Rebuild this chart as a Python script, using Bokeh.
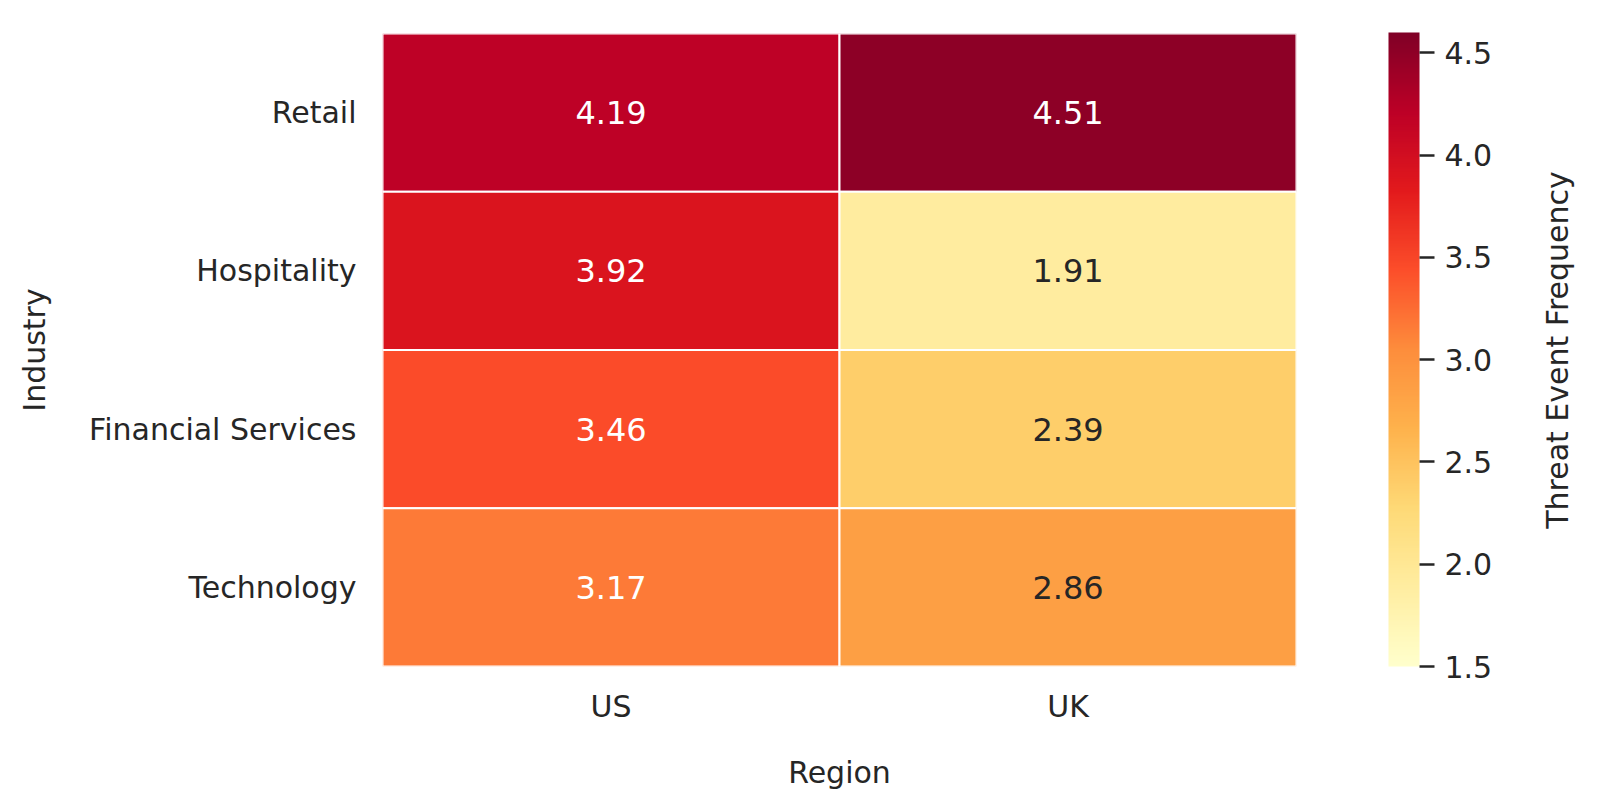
import numpy as np
from bokeh.plotting import figure
from bokeh.layouts import row
from bokeh.models import (ColumnDataSource, LinearColorMapper, ColorBar, FixedTicker,
                          PrintfTickFormatter, FactorRange, Title)
from bokeh.core.properties import value
from bokeh.embed import file_html
from bokeh.resources import INLINE

# ---- data ----
industries = ["Retail", "Hospitality", "Financial Services", "Technology"]  # top to bottom
regions = ["US", "UK"]
us_values = [4.19, 3.92, 3.46, 3.17]
uk_values = [4.51, 1.91, 2.39, 2.86]
cbar_low = 1.5
cbar_high = 4.6
cbar_ticks = [1.5, 2.0, 2.5, 3.0, 3.5, 4.0, 4.5]
x_title = "Region"
y_title = "Industry"
cbar_title = "Threat Event Frequency"

# ---- palette (YlOrRd, interpolated like matplotlib) ----
brewer = ['#ffffcc', '#ffeda0', '#fed976', '#feb24c', '#fd8d3c',
          '#fc4e2a', '#e31a1c', '#bd0026', '#800026']
anchors = np.array([[int(c[i:i + 2], 16) for i in (1, 3, 5)] for c in brewer], dtype=float)
pos = np.linspace(0, 1, len(brewer))
tt = np.linspace(0, 1, 256)
rgb = np.stack([np.interp(tt, pos, anchors[:, k]) for k in range(3)], axis=1)
palette = ["#%02x%02x%02x" % tuple(int(round(v)) for v in row_) for row_ in rgb]


def cell_rgb(v):
    t = (v - cbar_low) / (cbar_high - cbar_low)
    idx = int(np.clip(np.floor(t * 256), 0, 255))
    return rgb[idx] / 255.0


def text_color(v):
    c = cell_rgb(v)
    lin = np.where(c <= 0.03928, c / 12.92, ((c + 0.055) / 1.055) ** 2.4)
    lum = 0.2126 * lin[0] + 0.7152 * lin[1] + 0.0722 * lin[2]
    return "#262626" if lum > 0.408 else "#ffffff"


xs, ys, vals, labels, tcols = [], [], [], [], []
for ind, u, k in zip(industries, us_values, uk_values):
    for reg, v in zip(regions, (u, k)):
        xs.append(reg)
        ys.append(ind)
        vals.append(v)
        labels.append("%.2f" % v)
        tcols.append(text_color(v))

src = ColumnDataSource(dict(x=xs, y=ys, v=vals, label=labels, tcol=tcols))

mapper = LinearColorMapper(palette=palette, low=cbar_low, high=cbar_high)

FONT = "DejaVu Sans"
TXT = "#262626"

p = figure(width=1500, height=799, output_backend="svg", toolbar_location=None,
           x_range=FactorRange(*regions), y_range=FactorRange(*industries[::-1]),
           min_border_left=382, min_border_right=204, min_border_top=33,
           min_border_bottom=133)
p.outline_line_color = None
p.grid.visible = False
p.background_fill_color = "white"
p.border_fill_color = "white"

p.rect(x="x", y="y", width=1, height=1, source=src,
       fill_color={"field": "v", "transform": mapper},
       line_color="white", line_width=2)

p.text(x="x", y="y", text="label", source=src, text_color="tcol",
       text_font=value(FONT), text_font_size="32px",
       text_align="center", text_baseline="middle")

for ax in (p.xaxis[0], p.yaxis[0]):
    ax.axis_line_color = None
    ax.major_tick_line_color = None
    ax.minor_tick_line_color = None
    ax.major_tick_out = 0
    ax.major_tick_in = 0
    ax.major_label_text_font = FONT
    ax.major_label_text_font_size = "30px"
    ax.major_label_text_color = TXT
    ax.axis_label_text_font = FONT
    ax.axis_label_text_font_size = "30px"
    ax.axis_label_text_font_style = "normal"
    ax.axis_label_text_color = TXT

p.xaxis.axis_label = x_title
p.yaxis.axis_label = y_title
p.xaxis.major_label_standoff = 22
p.xaxis.axis_label_standoff = 28
p.yaxis.major_label_standoff = 26
p.yaxis.axis_label_standoff = 34

cb = ColorBar(color_mapper=mapper, width=31, height=634,
              ticker=FixedTicker(ticks=cbar_ticks),
              formatter=PrintfTickFormatter(format="%.1f"),
              major_label_text_font=FONT, major_label_text_font_size="30px",
              major_label_text_color=TXT,
              major_tick_in=0, major_tick_out=15,
              major_tick_line_color=TXT, major_tick_line_width=2.5,
              minor_tick_line_color=None,
              bar_line_color=None, border_line_color=None,
              background_fill_color=None,
              label_standoff=10, margin=0, padding=0,
              location=(92, 0))
p.add_layout(cb, "right")

# narrow companion panel that carries the colour-bar title (reads bottom-to-top)
p2 = figure(width=100, height=799, output_backend="svg", toolbar_location=None,
            x_axis_type=None, y_axis_type=None,
            min_border_left=74, min_border_right=0, min_border_top=33,
            min_border_bottom=133)
p2.outline_line_color = None
p2.grid.visible = False
p2.background_fill_color = "white"
p2.border_fill_color = "white"
p2.add_layout(Title(text=cbar_title, text_font=FONT, text_font_size="30px",
                    text_font_style="normal", text_color=TXT, align="center",
                    standoff=0), "left")

open("out.html", "w").write(file_html(row(p, p2), INLINE))
